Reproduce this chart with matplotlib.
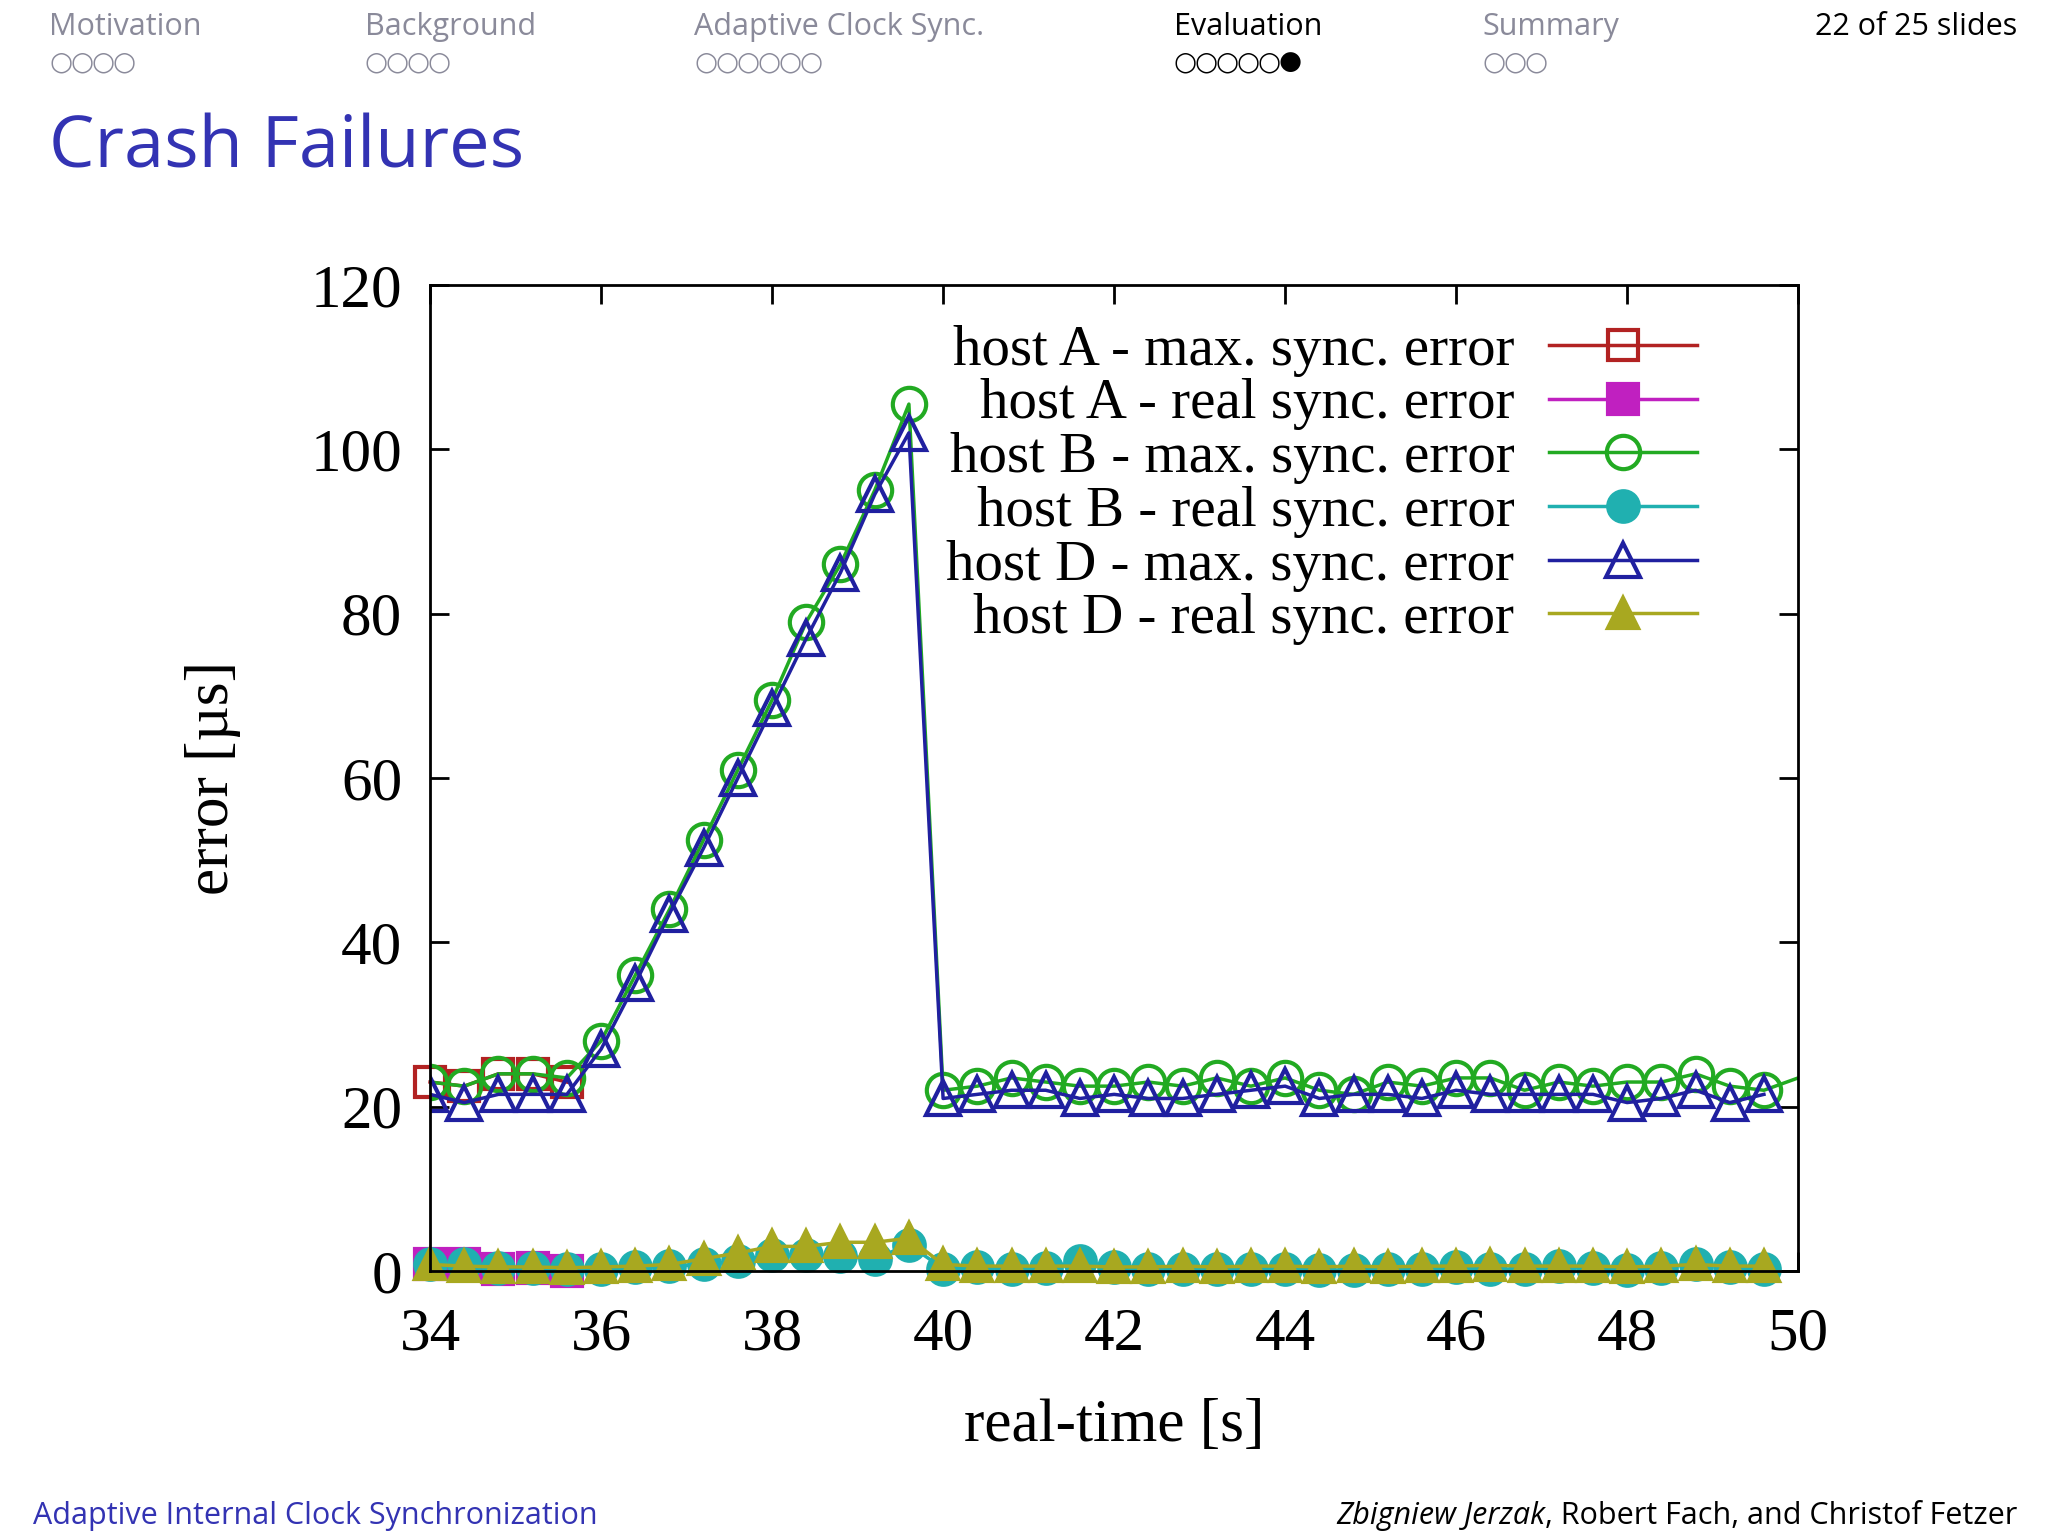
import matplotlib
matplotlib.use("Agg")
import matplotlib.pyplot as plt
import numpy as np

t_all = [34 + 0.4 * i for i in range(40)]
t_a = t_all[:5]
a_max = [23, 22.5, 24, 24, 23]
a_real = [0.8, 0.8, 0.2, 0.4, 0.0]
b_max = [23, 22.5, 24, 24, 23.5, 28, 36, 44, 52.5, 61, 69.5, 79, 86, 95, 105.5,
         22, 22.5, 23.5, 23, 22.5, 22.5, 23, 22.5, 23.5, 22.5, 23.5, 22, 21.5, 23, 22.5,
         23.5, 23.5, 22, 23, 22.5, 23, 23, 24, 22.5, 22]
t_b = t_all + [50.0]
b_max_full = b_max + [23.5]
b_real = [0.8, 0.8, 0.4, 0.4, 0.2, 0.2, 0.5, 0.6, 0.8, 1.2, 2.0, 2.0, 1.8, 1.5, 3.2,
          0.3, 0.5, 0.2, 0.4, 1.2, 0.5, 0.2, 0.3, 0.2, 0.2, 0.2, 0.1, 0.1, 0.3, 0.2,
          0.5, 0.2, 0.2, 0.6, 0.4, 0.1, 0.4, 0.9, 0.5, 0.2]
d_max = [21.5, 20.5, 21.5, 21.5, 21.5, 27, 35, 43.5, 51.5, 60, 68.5, 77, 85, 94.5, 102,
         21, 21.5, 22, 22, 21, 21.5, 21, 21, 21.5, 22, 22.5, 21, 21.5, 21.5, 21,
         22, 21.5, 21.5, 21.5, 21.5, 20.5, 21, 22, 20.5, 21.5]
d_real = [0.8, 0.6, 0.5, 0.5, 0.4, 0.5, 0.6, 0.8, 1.5, 2.2, 3.0, 3.0, 3.5, 3.5, 4.0,
          0.8, 0.6, 0.6, 0.6, 0.6, 0.5, 0.5, 0.6, 0.5, 0.6, 0.6, 0.5, 0.6, 0.5, 0.6,
          0.6, 0.7, 0.6, 0.6, 0.6, 0.5, 0.6, 0.8, 0.6, 0.6]
xticks = [34, 36, 38, 40, 42, 44, 46, 48, 50]
yticks = [0, 20, 40, 60, 80, 100, 120]

fig = plt.figure(figsize=(20.48, 15.36), dpi=100)
ax = fig.add_axes([0.21, 0.1725, 0.668, 0.642])
ax.set_facecolor("none")
ms = 22
mew = 3
lw = 2.5
ax.plot(t_a, a_max, color="#b22222", marker="s", ms=ms, mfc="none", mew=mew, lw=lw, clip_on=False, label="host A - max. sync. error")
ax.plot(t_a, a_real, color="#c020c0", marker="s", ms=ms, mew=mew, lw=lw, clip_on=False, label="host A - real sync. error")
ax.plot(t_b, b_max_full, color="#22aa22", marker="o", ms=ms+2, mfc="none", mew=mew, lw=lw,
        markevery=list(range(40)), label="host B - max. sync. error")
ax.plot(t_all, b_real, color="#20b0b0", marker="o", ms=ms, mew=mew, lw=lw, clip_on=False, label="host B - real sync. error")
ax.plot(t_all, d_max, color="#2020a0", marker="^", ms=ms+2, mfc="none", mew=mew, lw=lw, label="host D - max. sync. error")
ax.plot(t_all, d_real, color="#a8a820", marker="^", ms=ms, mew=mew, lw=lw, clip_on=False, label="host D - real sync. error")
ax.set_xlim(34, 50)
ax.set_ylim(0, 120)
ax.set_xticks(xticks)
ax.set_yticks(yticks)
for s in ax.spines.values():
    s.set_linewidth(2)
ax.tick_params(direction="in", length=14, width=2, top=True, right=True, labelsize=44)
ax.tick_params(axis="x", pad=26)
ax.tick_params(axis="y", pad=20)
for lab in ax.get_xticklabels() + ax.get_yticklabels():
    lab.set_family("Liberation Serif")
ax.set_xlabel("real-time [s]", fontsize=44, family="Liberation Serif", labelpad=26)
ax.set_ylabel("error [µs]", fontsize=44, family="Liberation Serif", labelpad=50)
leg = ax.legend(loc="upper right", frameon=False, markerfirst=False,
                prop={"family": "Liberation Serif", "size": 41}, handlelength=2.6,
                labelspacing=0.03, borderaxespad=0.3, handletextpad=0.6,
                bbox_to_anchor=(0.955, 1.0))

# slide chrome
sans = "Open Sans"
grey = "#8a8a9a"
secs = [("Motivation", 0.024, 4, -1), ("Background", 0.178, 4, -1), ("Adaptive Clock Sync.", 0.339, 6, -1),
        ("Evaluation", 0.573, 6, 5), ("Summary", 0.724, 3, -1)]
for name, x, n, filled in secs:
    col = "black" if filled >= 0 else grey
    fig.text(x, 0.992, name, fontsize=22, family=sans, color=col, va="top")
    for i in range(n):
        fig.text(x + i * 0.0103, 0.968, "●" if i == filled else "○", fontsize=19,
                 family="DejaVu Sans", color=col, va="top")
fig.text(0.985, 0.992, "22 of 25 slides", fontsize=22, family=sans, ha="right", va="top")
fig.text(0.024, 0.903, "Crash Failures", fontsize=52, family=sans, color="#3333b3", va="center")
fig.text(0.016, 0.008, "Adaptive Internal Clock Synchronization", fontsize=22, family=sans, color="#3333b3")
t2 = fig.text(0.985, 0.008, ", Robert Fach, and Christof Fetzer", fontsize=22, family=sans, ha="right")
fig.canvas.draw()
bb = t2.get_window_extent()
x0 = fig.transFigure.inverted().transform((bb.x0, bb.y0))[0]
fig.text(x0, 0.008, "Zbigniew Jerzak", fontsize=22, family=sans, style="italic", ha="right")
fig.savefig("out.png", dpi=100)
